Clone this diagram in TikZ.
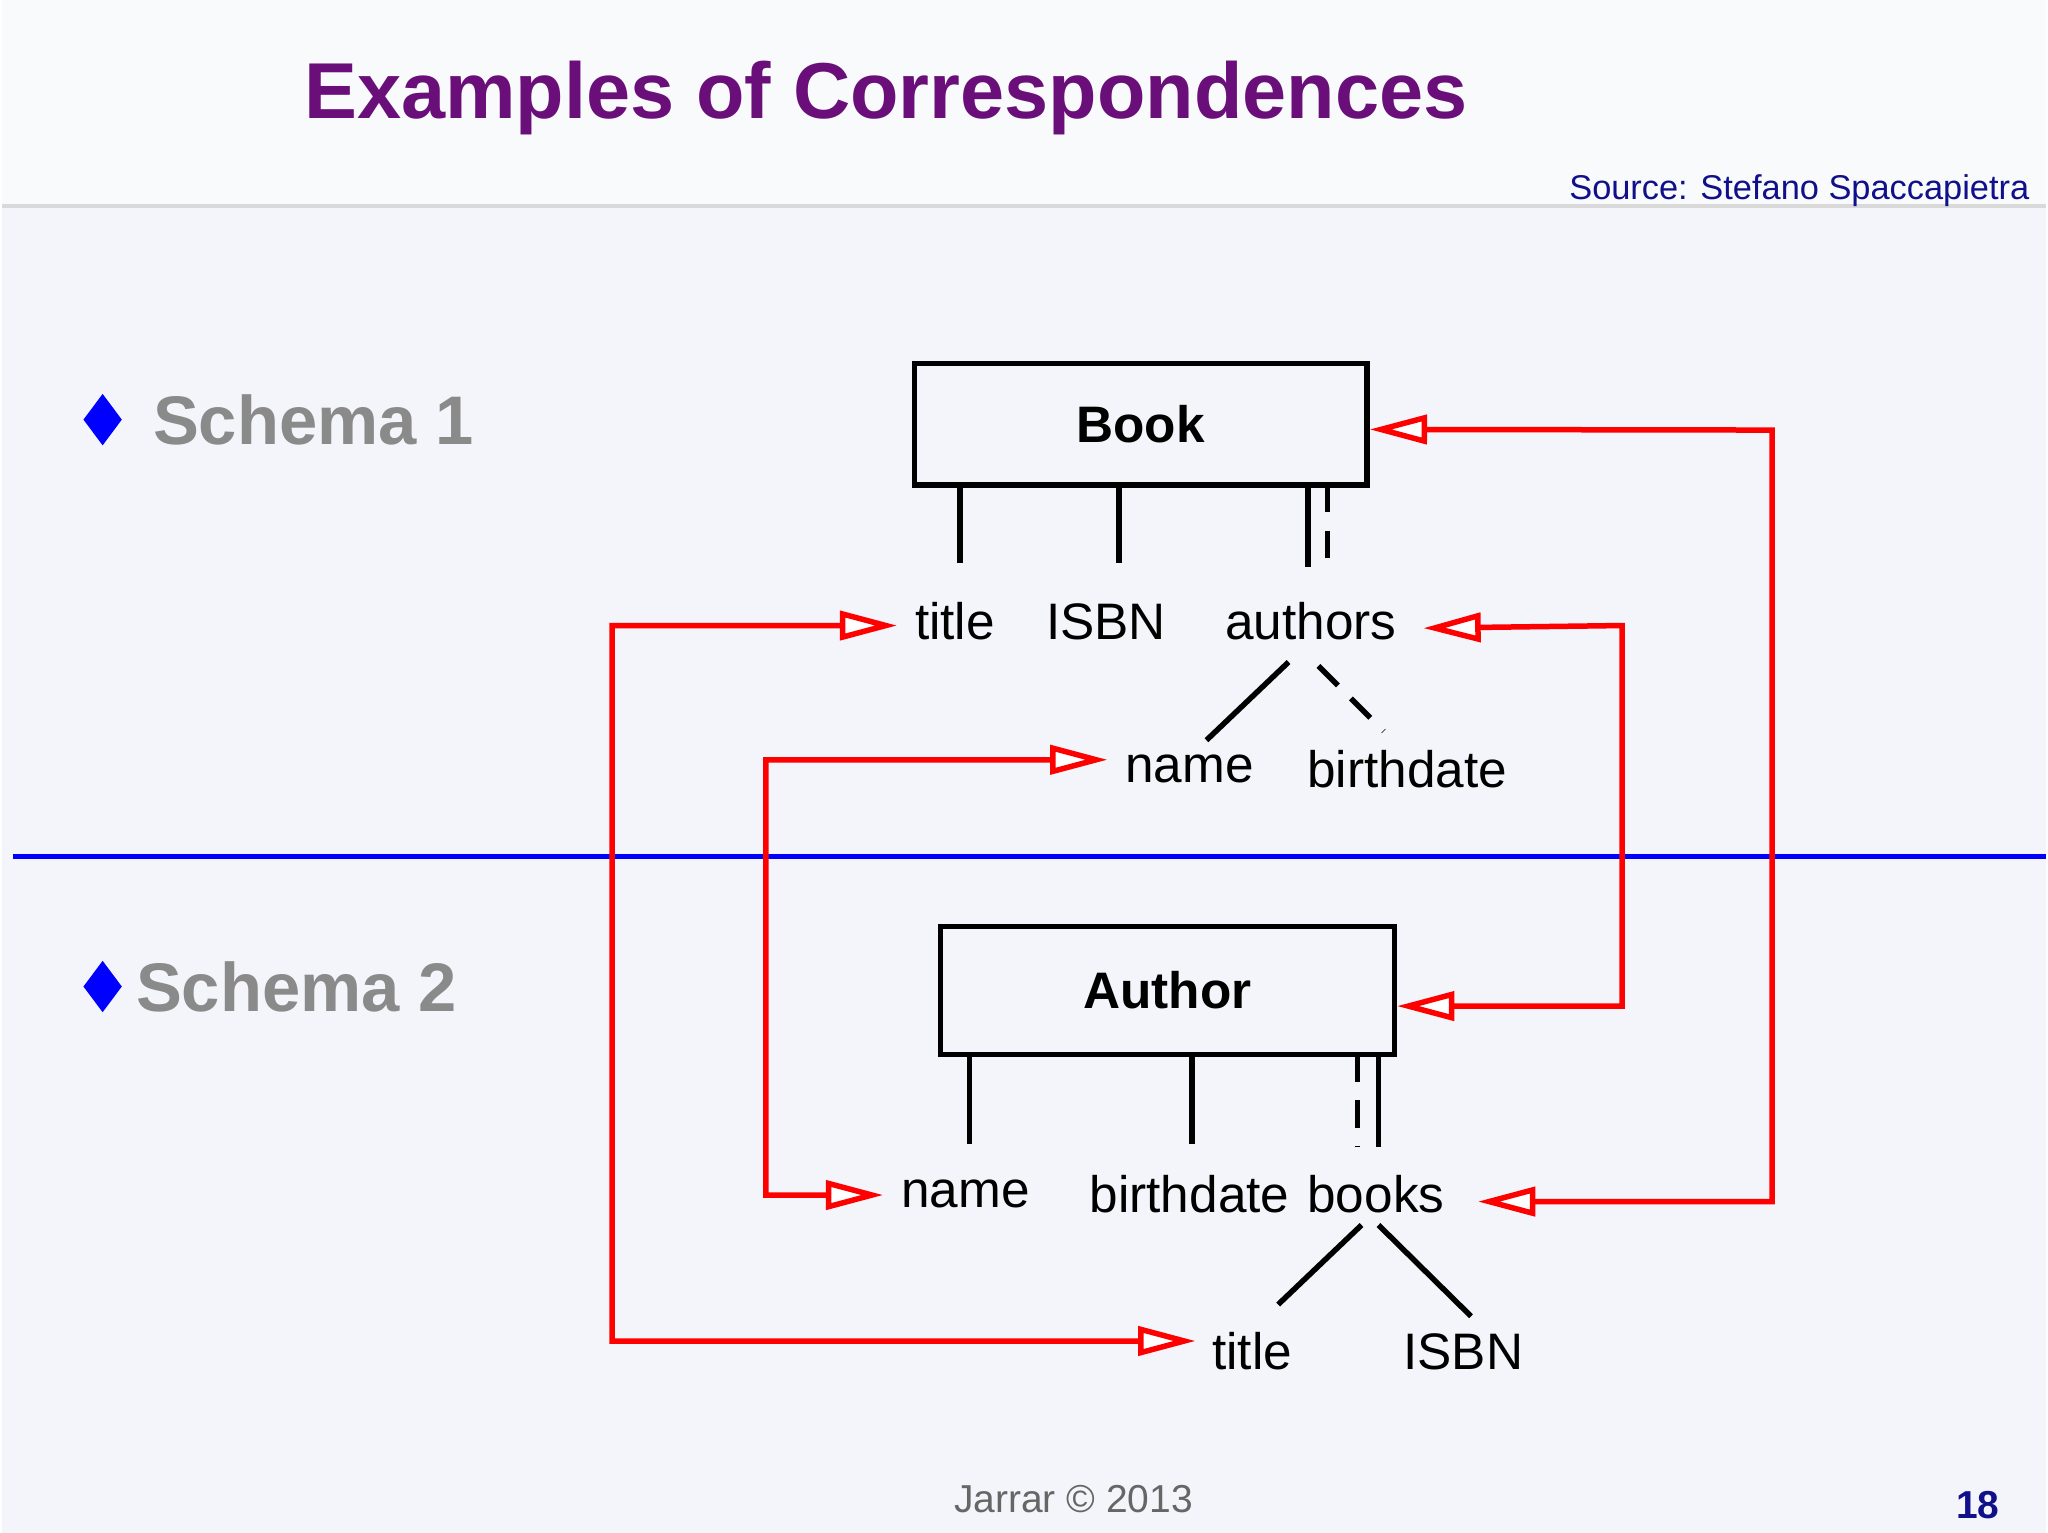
\documentclass[tikz,border=0pt]{standalone}
\usepackage{fontspec}
\setmainfont{Liberation Sans}
\usetikzlibrary{arrows.meta,shapes.geometric}
\definecolor{bg}{HTML}{F3F5FA}
\definecolor{ttl}{HTML}{6A0F7A}
\definecolor{navy}{HTML}{10108A}
\definecolor{schem}{HTML}{8A8A8A}
\begin{document}
\begin{tikzpicture}[x=0.01cm,y=-0.01cm,
  lbl/.style={font=\fontsize{11.2}{13}\selectfont,inner sep=0pt},
  ent/.style={draw,line width=1.2pt,font=\fontsize{11.2}{13}\selectfont\bfseries,inner sep=0pt},
  att/.style={line width=1.2pt},
  corr/.style={red,line width=1.2pt,{Triangle[open,length=0.44cm,width=0.22cm,fill=white]}-{Triangle[open,length=0.44cm,width=0.22cm,fill=white]}},
  schema/.style={font=\fontsize{15}{17}\selectfont\bfseries,text=schem,anchor=west,inner sep=0pt},
  dia/.style={diamond,fill=blue,inner sep=0pt,minimum width=0.3cm,minimum height=0.4cm}]
\fill[bg] (0,0) rectangle (1568,1176);
\fill[white,opacity=0.5] (0,0) rectangle (1568,158);
\draw[gray!30,line width=1pt] (0,158) -- (1568,158);
\useasboundingbox (0,0) rectangle (1568,1176);
\node[font=\fontsize{17.3}{20}\selectfont\bfseries,text=ttl] (title) at (678,75) {Examples of Correspondences};
\node[font=\fontsize{7.5}{9}\selectfont,text=navy,anchor=east,inner sep=0pt] (src) at (1556,146) {Source: Stefano Spaccapietra};
\node[dia] (d1) at (77,322) {};
\node[schema] (s1) at (115,322) {Schema 1};
\node[dia] (d2) at (77,757) {};
\node[schema] (s2) at (102,757) {Schema 2};
\coordinate (bl) at (8,657); \coordinate (br) at (1568,657);
\draw[blue,line width=1pt] (bl) -- (br);
% schema 1
\node[ent,minimum width=3.47cm,minimum height=0.93cm] (book) at (873.5,325.5) {Book};
\node[lbl] (t1) at (731,477) {title};
\node[lbl] (i1) at (847,477) {ISBN};
\node[lbl] (a1) at (1004,477) {authors};
\node[lbl] (n1) at (911,590) {name};
\node[lbl] (b1) at (1078,590) {birthdate};
\draw[att] (735,372) -- (735,432);
\draw[att] (857,372) -- (857,432);
\draw[att] (1002,372) -- (1002,435);
\draw[att,dash pattern=on 6pt off 4pt] (1017,372) -- (1017,437);
\draw[att] (987,508) -- (924,568);
\draw[att,dash pattern=on 6pt off 4pt] (1010,511) -- (1060,561);
% schema 2
\node[ent,minimum width=3.48cm,minimum height=0.98cm] (auth) at (894,760) {Author};
\node[lbl] (n2) at (739,916) {name};
\node[lbl] (b2) at (911,916) {birthdate};
\node[lbl] (k2) at (1054,916) {books};
\node[lbl] (t2) at (959,1037) {title};
\node[lbl] (i2) at (1121,1037) {ISBN};
\draw[att] (742,809) -- (742,878);
\draw[att] (913,809) -- (913,878);
\draw[att,dash pattern=on 6pt off 4pt] (1040,809) -- (1040,880);
\draw[att] (1056,809) -- (1056,880);
\draw[att] (1043,940) -- (979,1001);
\draw[att] (1056,940) -- (1127,1010);
% correspondences
\draw[corr] ([xshift=-0.13cm,yshift=-0.03cm]t1.west) -- (468,480) -- (468,1029) -- ([xshift=-0.12cm,yshift=0.08cm]t2.west);
\draw[corr] ([xshift=-0.13cm,yshift=0.07cm]n1.west) -- (586,583) -- (586,917) -- ([xshift=-0.13cm,yshift=-0.01cm]n2.west);
\draw[corr] ([xshift=0.2cm,yshift=-0.05cm]a1.east) -- (1243,480) -- (1243,772) -- ([yshift=-0.12cm]auth.east);
\draw[corr] ([yshift=-0.04cm]book.east) -- (1358,330) -- (1358,922) -- ([xshift=0.25cm,yshift=-0.06cm]k2.east);
% footer
\node[font=\fontsize{8.5}{10}\selectfont,text=gray!80!black] (ft) at (822,1150) {Jarrar © 2013};
\node[font=\fontsize{8.5}{10}\selectfont\bfseries,text=navy] (pg) at (1516,1155) {18};
\end{tikzpicture}
\end{document}
